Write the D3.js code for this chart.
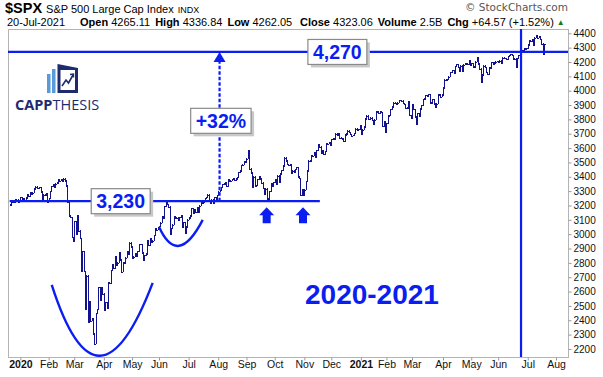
<!DOCTYPE html>
<html lang="en">
<head>
<meta charset="UTF-8">
<title>$SPX 2020-2021</title>
<script src="https://d3js.org/d3.v7.min.js"></script>
<style>
  body { margin: 0; background: #fff; }
  svg { display: block; font-family: Arial, "Liberation Sans", sans-serif; }
</style>
</head>
<body>
<svg width="603" height="377"></svg>
<script>
    // daily closes, one array per month (first value of dec2019 is 19-Dec-2019)
    const dec2019 = [3205.37, 3221.22, 3224.01, 3223.38, 3239.91, 3240.02, 3221.29, 3230.78];
    const jan2020 = [3257.85, 3234.85, 3246.28, 3237.18, 3253.05, 3274.70, 3265.35, 3288.13, 3283.15, 3289.29, 3316.81, 3329.62, 3320.79, 3321.75, 3325.54, 3295.47, 3243.63, 3276.24, 3273.40, 3283.66, 3225.52];
    const feb2020 = [3248.92, 3297.59, 3334.69, 3345.78, 3327.71, 3352.09, 3357.75, 3379.45, 3373.94, 3380.16, 3370.29, 3386.15, 3373.23, 3337.75, 3225.89, 3128.21, 3116.39, 2978.76, 2954.22];
    const mar2020 = [3090.23, 3003.37, 3130.12, 3023.94, 2972.37, 2746.56, 2882.23, 2741.38, 2480.64, 2711.02, 2386.13, 2529.19, 2398.10, 2409.39, 2304.92, 2237.40, 2447.33, 2475.56, 2630.07, 2541.47, 2626.65, 2584.59];
    const apr2020 = [2470.50, 2526.90, 2488.65, 2663.68, 2659.41, 2749.98, 2789.82, 2761.63, 2846.06, 2783.36, 2799.55, 2874.56, 2823.16, 2736.56, 2799.31, 2797.80, 2836.74, 2878.48, 2863.39, 2939.51, 2912.43];
    const may2020 = [2830.71, 2842.74, 2868.44, 2848.42, 2881.19, 2929.80, 2930.19, 2870.12, 2820.00, 2852.50, 2863.70, 2953.91, 2922.94, 2971.61, 2948.51, 2955.45, 2991.77, 3036.13, 3029.73, 3044.31];
    const jun2020 = [3055.73, 3080.82, 3122.87, 3112.35, 3193.93, 3232.39, 3207.18, 3190.14, 3002.10, 3041.31, 3066.59, 3124.74, 3113.49, 3115.34, 3097.74, 3117.86, 3131.29, 3050.33, 3083.76, 3009.05, 3053.24, 3100.29];
    const jul2020 = [3115.86, 3130.01, 3179.72, 3145.32, 3169.94, 3152.05, 3185.04, 3155.22, 3197.52, 3226.56, 3215.57, 3224.73, 3251.84, 3257.30, 3276.02, 3235.66, 3215.63, 3239.41, 3218.44, 3258.44, 3246.22, 3271.12];
    const aug2020 = [3294.61, 3306.51, 3327.77, 3349.16, 3351.28, 3360.47, 3333.69, 3380.35, 3373.43, 3372.85, 3381.99, 3389.78, 3374.85, 3385.51, 3397.16, 3431.28, 3443.62, 3478.73, 3484.55, 3508.01, 3500.31];
    const sep2020 = [3526.65, 3580.84, 3455.06, 3426.96, 3331.84, 3398.96, 3339.19, 3340.97, 3383.54, 3401.20, 3385.49, 3357.01, 3319.47, 3281.06, 3315.57, 3236.92, 3246.59, 3298.46, 3351.60, 3335.47, 3363.00];
    const oct2020 = [3380.80, 3348.42, 3408.60, 3360.97, 3419.44, 3446.83, 3477.14, 3534.22, 3511.93, 3488.67, 3483.34, 3483.81, 3426.92, 3443.12, 3435.56, 3453.49, 3465.39, 3400.97, 3390.68, 3271.03, 3310.11, 3269.96];
    const nov2020 = [3310.24, 3369.16, 3443.44, 3510.45, 3509.44, 3550.50, 3545.53, 3572.66, 3537.01, 3585.15, 3626.91, 3609.53, 3567.79, 3581.87, 3557.54, 3577.59, 3635.41, 3629.65, 3638.35, 3621.63];
    const dec2020 = [3662.45, 3669.01, 3666.72, 3699.12, 3691.96, 3702.25, 3672.82, 3668.10, 3663.46, 3647.49, 3694.62, 3701.17, 3722.48, 3709.41, 3694.92, 3687.26, 3690.01, 3703.06, 3735.36, 3727.04, 3732.04, 3756.07];
    const jan2021 = [3700.65, 3726.86, 3748.14, 3803.79, 3824.68, 3799.61, 3801.19, 3809.84, 3795.54, 3768.25, 3798.91, 3851.85, 3853.07, 3841.47, 3855.36, 3849.62, 3750.77, 3787.38, 3714.24];
    const feb2021 = [3773.86, 3826.31, 3830.17, 3871.74, 3886.83, 3915.59, 3911.23, 3909.88, 3916.38, 3934.83, 3932.59, 3931.33, 3913.97, 3906.71, 3876.50, 3881.37, 3925.43, 3829.34, 3811.15];
    const mar2021 = [3901.82, 3870.29, 3819.72, 3768.47, 3841.94, 3821.35, 3875.44, 3898.81, 3939.34, 3943.34, 3968.94, 3962.71, 3974.12, 3915.46, 3913.10, 3940.59, 3910.52, 3889.14, 3909.52, 3974.54, 3971.09, 3958.55, 3972.89];
    const apr2021 = [4019.87, 4077.91, 4073.94, 4079.95, 4097.17, 4128.80, 4127.99, 4141.59, 4124.66, 4170.42, 4185.47, 4163.26, 4134.94, 4173.42, 4134.98, 4180.17, 4187.62, 4186.72, 4183.18, 4211.47, 4181.17];
    const may2021 = [4192.66, 4164.66, 4167.59, 4201.62, 4232.60, 4188.43, 4152.10, 4063.04, 4112.50, 4173.85, 4163.29, 4127.83, 4115.68, 4159.12, 4155.86, 4197.05, 4188.13, 4195.99, 4200.88, 4204.11];
    const jun2021 = [4202.04, 4208.12, 4192.85, 4229.89, 4226.52, 4227.26, 4219.55, 4239.18, 4247.44, 4255.15, 4246.59, 4223.70, 4221.86, 4166.45, 4224.79, 4246.44, 4241.84, 4266.49, 4280.70, 4290.61, 4291.80, 4297.50];
    const jul2021 = [4319.94, 4352.34, 4343.54, 4358.13, 4320.82, 4369.55, 4384.63, 4369.21, 4374.30, 4360.03, 4327.16, 4258.49, 4323.06];

    // x axis: trading-day index of the first session of each month (0 = 2-Jan-2020)
    const xTickIdx = [0, 21, 40, 62, 83, 103, 125, 147, 168, 189, 211, 231, 253, 272, 291, 314, 335, 355, 377, 398];
    const xTickLabels = ["2020", "Feb", "Mar", "Apr", "May", "Jun", "Jul", "Aug", "Sep", "Oct", "Nov", "Dec",
                         "2021", "Feb", "Mar", "Apr", "May", "Jun", "Jul", "Aug"];
    const yTicks = d3.range(2200, 4401, 100);

    // header quote fields
    const quoteLeft = [["Open", "4265.11"], ["High", "4336.84"], ["Low", "4262.05"]];
    const quoteRight = [["Close", "4323.06"], ["Volume", "2.5B"], ["Chg", "+64.57 (+1.52%)"]];

    // annotations (trading-day index / price)
    const supportLevel = 3230, targetLevel = 4270;
    const gainIdx = 148, gainLabel = "+32%", gainLabelValue = 3790;
    const bottomArrows = [183, 210];
    const breakoutIdx = 372;
    const bigCup = [[23.3, 2647], [59, 2153], [98.3, 2661]];
    const smallCup = [[103, 3051], [118, 2919], [135.5, 3100]];

    const width = 603, height = 377;
    const plot = {left: 8, right: 568, top: 29, bottom: 357};
    const blue = "#0b1ef2", navy = "#12128e";

    const closes = [].concat(dec2019, jan2020, feb2020, mar2020, apr2020, may2020, jun2020, jul2020,
        aug2020, sep2020, oct2020, nov2020, dec2020, jan2021, feb2021, mar2021, apr2021, may2021, jun2021, jul2021);
    const firstIdx = -dec2019.length;
    const data = closes.map((c, i) => ({idx: firstIdx + i, close: c, prev: i > 0 ? closes[i - 1] : c}));

    const svg = d3.select("svg").attr("width", width).attr("height", height);

    const x = d3.scaleLinear().domain([-9.2, 406.9]).range([plot.left, plot.right]);
    const y = d3.scaleLinear().domain([2144, 4430]).range([plot.bottom, plot.top]);

    // frame
    svg.append("rect")
        .attr("x", plot.left + 0.5).attr("y", plot.top + 0.5)
        .attr("width", plot.right - plot.left).attr("height", plot.bottom - plot.top)
        .attr("fill", "none").attr("stroke", "#b4b4b4");

    // right axis
    const yAxis = svg.append("g")
        .attr("transform", `translate(${plot.right + 0.5},0)`)
        .call(d3.axisRight(y).tickValues(yTicks).tickSize(3).tickPadding(2).tickFormat(d3.format("d")));
    yAxis.select(".domain").remove();
    yAxis.selectAll("line").attr("stroke", "#999");
    yAxis.selectAll("text").attr("font-size", 10).attr("font-family", "Arial, 'Liberation Sans', sans-serif").attr("fill", "#111");

    // bottom axis
    const xAxis = svg.append("g")
        .attr("transform", `translate(0,${plot.bottom + 0.5})`)
        .call(d3.axisBottom(x).tickValues(xTickIdx).tickSize(3).tickPadding(0)
            .tickFormat((d, i) => xTickLabels[i]));
    xAxis.select(".domain").remove();
    xAxis.selectAll("line").attr("stroke", "#999");
    xAxis.selectAll("text")
        .attr("font-size", 10.5)
        .attr("font-family", "Arial, 'Liberation Sans', sans-serif")
        .attr("fill", "#111")
        .attr("font-weight", (d, i) => /^\d{4}$/.test(xTickLabels[i]) ? "bold" : "normal");

    // price bars
    const bars = svg.append("g").attr("stroke", navy).attr("shape-rendering", "crispEdges");
    bars.selectAll("line.hl")
        .data(data).enter().append("line")
        .attr("class", "hl")
        .attr("x1", d => Math.round(x(d.idx)) + 0.5)
        .attr("x2", d => Math.round(x(d.idx)) + 0.5)
        .attr("y1", d => y(Math.max(d.prev, d.close)) - 0.5)
        .attr("y2", d => y(Math.min(d.prev, d.close)) + 0.5);
    bars.selectAll("line.cl")
        .data(data).enter().append("line")
        .attr("class", "cl")
        .attr("x1", d => Math.round(x(d.idx)))
        .attr("x2", d => Math.round(x(d.idx)) + 2)
        .attr("y1", d => Math.round(y(d.close)) + 0.5)
        .attr("y2", d => Math.round(y(d.close)) + 0.5);

    // annotation layer
    const ann = svg.append("g");

    ann.append("line")
        .attr("x1", x(-8)).attr("x2", x(222.5))
        .attr("y1", y(supportLevel)).attr("y2", y(supportLevel))
        .attr("stroke", blue).attr("stroke-width", 2.2);
    ann.append("line")
        .attr("x1", plot.left).attr("x2", plot.right)
        .attr("y1", y(targetLevel)).attr("y2", y(targetLevel))
        .attr("stroke", blue).attr("stroke-width", 2.2);
    ann.append("line")
        .attr("x1", x(breakoutIdx)).attr("x2", x(breakoutIdx))
        .attr("y1", plot.top).attr("y2", plot.bottom)
        .attr("stroke", blue).attr("stroke-width", 2.2);

    // dashed measuring arrow
    const gx = x(gainIdx);
    ann.append("line")
        .attr("x1", gx).attr("x2", gx)
        .attr("y1", y(supportLevel)).attr("y2", y(targetLevel) + 9)
        .attr("stroke", blue).attr("stroke-width", 2.2).attr("stroke-dasharray", "3.5,2");
    ann.append("path")
        .attr("d", `M${gx},${y(targetLevel)} L${gx + 6},${y(targetLevel) + 10} L${gx - 6},${y(targetLevel) + 10} Z`)
        .attr("fill", blue);

    // cups
    function cupPath(pts) {
        const p = pts.map(d => [x(d[0]), y(d[1])]);
        const cx = 2 * p[1][0] - (p[0][0] + p[2][0]) / 2;
        const cy = 2 * p[1][1] - (p[0][1] + p[2][1]) / 2;
        return `M${p[0][0]},${p[0][1]} Q${cx},${cy} ${p[2][0]},${p[2][1]}`;
    }
    [bigCup, smallCup].forEach(c => {
        ann.append("path").attr("d", cupPath(c))
            .attr("fill", "none").attr("stroke", blue).attr("stroke-width", 2.4);
    });

    // up arrows under the double bottom
    bottomArrows.forEach(i => {
        const ax = x(i), ay = y(supportLevel) + 6;
        ann.append("path")
            .attr("d", `M${ax},${ay} L${ax + 7.5},${ay + 8} L${ax + 4},${ay + 8} L${ax + 4},${ay + 16}
                        L${ax - 4},${ay + 16} L${ax - 4},${ay + 8} L${ax - 7.5},${ay + 8} Z`)
            .attr("fill", blue);
    });

    // boxed labels
    function boxLabel(cx, cy, label) {
        const g = ann.append("g");
        const shadow = g.append("rect").attr("fill", "#c8c8c8");
        const box = g.append("rect").attr("fill", "#fff").attr("stroke", "#8a8a8a").attr("stroke-width", 1.2);
        const t = g.append("text")
            .attr("x", cx).attr("y", cy)
            .attr("dy", "0.36em")
            .attr("text-anchor", "middle")
            .attr("font-size", 19.5).attr("font-weight", "bold")
            .attr("fill", blue)
            .text(label);
        const bb = t.node().getBBox();
        const bx = bb.x - 3, bw = bb.width + 10, bh = 25, by = cy - bh / 2;
        box.attr("x", bx).attr("y", by).attr("width", bw).attr("height", bh);
        shadow.attr("x", bx + 3).attr("y", by + 3).attr("width", bw).attr("height", bh);
        t.attr("x", cx + 2);
    }
    boxLabel(x(73), y(supportLevel), "3,230");
    boxLabel(x(234), y(targetLevel), "4,270");
    boxLabel(x(gainIdx - 0.5), y(gainLabelValue), gainLabel);

    ann.append("text")
        .attr("x", 305).attr("y", 304)
        .attr("font-size", 28).attr("font-weight", "bold")
        .attr("fill", blue)
        .text("2020-2021");

    // logo
    const logo = svg.append("g");
    logo.append("rect").attr("x", 47).attr("y", 74).attr("width", 3.5).attr("height", 19).attr("fill", "#5b9ad8");
    logo.append("rect").attr("x", 52).attr("y", 69).attr("width", 3.5).attr("height", 24).attr("fill", "#5b9ad8");
    logo.append("path").attr("d", "M57.5,64 L78,68 L78,93 L57.5,93 Z").attr("fill", "#1e2b6e");
    logo.append("rect").attr("x", 60.5).attr("y", 70).attr("width", 14.5).attr("height", 20).attr("fill", "#fff");
    logo.append("path").attr("d", "M62,86 L66,80 L68.5,83 L73,75").attr("fill", "none")
        .attr("stroke", "#1e2b6e").attr("stroke-width", 1.6);
    logo.append("path").attr("d", "M70,74.5 L73.5,74 L73.5,77.5").attr("fill", "none")
        .attr("stroke", "#1e2b6e").attr("stroke-width", 1.4);
    const lt = logo.append("text").attr("x", 15).attr("y", 110).attr("font-size", 14.5)
        .attr("fill", "#1e2b6e").attr("font-family", "'Open Sans', Arial, sans-serif");
    lt.append("tspan").attr("font-weight", "bold").text("CAPP");
    lt.append("tspan").attr("font-weight", "normal").text("THESIS");

    // header
    const hdr = svg.append("g").attr("fill", "#000");
    const t1 = hdr.append("text").attr("x", 5).attr("y", 12.5);
    t1.append("tspan").attr("font-size", 14.5).attr("font-weight", "bold").text("$SPX");
    t1.append("tspan").attr("font-size", 11).attr("dx", 4).text("S&P 500 Large Cap Index");
    t1.append("tspan").attr("font-size", 9).attr("dx", 4).text("INDX");

    hdr.append("text").attr("x", 568).attr("y", 10.5).attr("text-anchor", "end")
        .attr("font-size", 10.5).attr("fill", "#555")
        .attr("font-family", "'DejaVu Sans', Verdana, sans-serif")
        .text("\u00a9 StockCharts.com");

    hdr.append("text").attr("x", 7).attr("y", 25.5).attr("font-size", 11).text("20-Jul-2021");

    function quoteLine(x0, fields) {
        const t = hdr.append("text").attr("x", x0).attr("y", 25.5).attr("font-size", 11);
        fields.forEach((f, i) => {
            t.append("tspan").attr("font-weight", "bold").attr("dx", i === 0 ? 0 : 5).text(f[0]);
            t.append("tspan").attr("font-weight", "normal").text("\u00a0" + f[1]);
        });
        return t;
    }
    quoteLine(80, quoteLeft);
    const qr = quoteLine(300, quoteRight);
    const qb = qr.node().getBBox();
    hdr.append("text").attr("x", qb.x + qb.width + 3).attr("y", 24.5).attr("font-size", 8)
        .attr("fill", "#1a7a1a").text("\u25b2");
</script>
</body>
</html>
